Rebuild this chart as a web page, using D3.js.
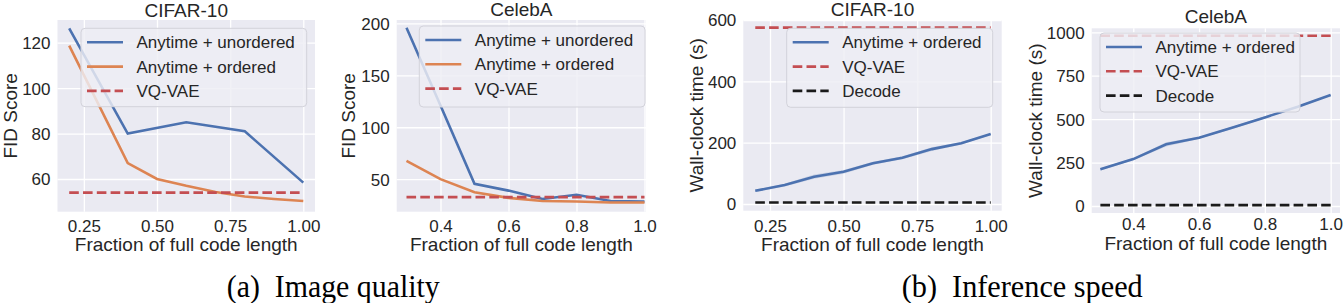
<!DOCTYPE html>
<html>
<head>
<meta charset="utf-8">
<script src="https://cdn.jsdelivr.net/npm/d3@7"></script>
<style>
  body { margin: 0; background: #fff; }
  svg { display: block; }
  text { font-family: "Liberation Sans", Arial, sans-serif; fill: #262626; }
  .caption { font-family: "Liberation Serif", "Times New Roman", serif; fill: #000; }
</style>
</head>
<body>
<svg id="fig" width="1344" height="303"></svg>
<script>
// ---- (a) image quality: FID vs fraction of code length ----
const cifarFracUnordered = [0.2, 0.4, 0.6, 0.8, 1.0];
const cifarFidUnordered  = [126.3, 80, 85, 81, 58.4];
const cifarFracOrdered   = [0.2, 0.4, 0.5, 0.6, 0.7, 0.8, 0.9, 1.0];
const cifarFidOrdered    = [118.7, 67, 60, 57, 54.3, 52.3, 51.2, 50.3];
const cifarFidVQ = 54;

const celebFrac = [0.3, 0.4, 0.5, 0.6, 0.7, 0.8, 0.9, 1.0];
const celebFidUnordered = [195.8, 121, 45.5, 39, 31, 35, 29, 28.5];
const celebFidOrdered   = [67.6, 50, 37.5, 32, 29, 28.5, 27.5, 27.5];
const celebFidVQ = 32.7;

// ---- (b) inference speed: wall-clock seconds ----
const cifarSpeedFrac = [0.2, 0.3, 0.4, 0.5, 0.6, 0.7, 0.8, 0.9, 1.0];
const cifarTime   = [43, 62, 89, 105, 133, 151, 179, 198, 228];
const cifarTimeLo = [39, 57, 82, 99, 128, 146, 173, 194, 225];
const cifarTimeHi = [47, 66, 96, 111, 138, 156, 185, 202, 231];
const cifarTimeVQ = 575;
const cifarTimeDecode = 5;

const celebSpeedFrac = [0.3, 0.4, 0.5, 0.6, 0.7, 0.8, 0.9, 1.0];
const celebTime   = [211, 270, 355, 393, 450, 510, 571, 639];
const celebTimeLo = [205, 264, 343, 387, 444, 504, 565, 634];
const celebTimeHi = [217, 276, 367, 399, 456, 516, 577, 644];
const celebTimeVQ = 980;
const celebTimeDecode = 5;

const qualityTicksX = [0.25, 0.5, 0.75, 1.0];
const celebTicksX = [0.4, 0.6, 0.8, 1.0];

const blue = "#4C72B0", orange = "#DD8452", red = "#C44E52", black = "#1a1a1a";

const svg = d3.select("#fig");

const panels = [
  {
    title: "CIFAR-10", ylab: "FID Score",
    box: [57.5, 20, 315, 211.7], xd: [0.16, 1.04], yd: [45.6, 130],
    xt: qualityTicksX, xfmt: ".2f", yt: [60, 80, 100, 120],
    titleY: 16.5, ylabX: 17, xtY: 20, xlY: 39.5,
    legend: [81, 28.3, 225.7, 78.4],
    series: [
      {name: "Anytime + unordered", x: cifarFracUnordered, y: cifarFidUnordered, color: blue},
      {name: "Anytime + ordered", x: cifarFracOrdered, y: cifarFidOrdered, color: orange},
      {name: "VQ-VAE", h: cifarFidVQ, color: red, dash: true, span: [0.2, 1.0]}
    ]
  },
  {
    title: "CelebA", ylab: "FID Score",
    box: [396.7, 20, 646, 211.7], xd: [0.2712, 1.0044], yd: [18.7, 203.2],
    xt: celebTicksX, xfmt: ".1f", yt: [50, 100, 150, 200],
    titleY: 15.5, ylabX: 355, xtY: 20, xlY: 39.5,
    legend: [419.3, 26, 225.7, 81],
    series: [
      {name: "Anytime + unordered", x: celebFrac, y: celebFidUnordered, color: blue},
      {name: "Anytime + ordered", x: celebFrac, y: celebFidOrdered, color: orange},
      {name: "VQ-VAE", h: celebFidVQ, color: red, dash: true, span: [0.3, 1.0]}
    ]
  },
  {
    title: "CIFAR-10", ylab: "Wall-clock time (s)",
    box: [743.3, 20, 1001.7, 210.7], xd: [0.1593, 1.0374], yd: [-21.85, 600],
    xt: qualityTicksX, xfmt: ".2f", yt: [0, 200, 400, 600],
    titleY: 15.5, ylabX: 703, xtY: 21, xlY: 40.5,
    legend: [786.7, 28.3, 206, 79],
    series: [
      {name: "Anytime + ordered", x: cifarSpeedFrac, y: cifarTime, lo: cifarTimeLo, hi: cifarTimeHi, color: blue},
      {name: "VQ-VAE", h: cifarTimeVQ, color: red, dash: true, span: [0.2, 1.0]},
      {name: "Decode", h: cifarTimeDecode, color: black, dash: true, span: [0.2, 1.0]}
    ]
  },
  {
    title: "CelebA", ylab: "Wall-clock time (s)",
    box: [1091.7, 28.3, 1340, 213], xd: [0.2736, 1.0284], yd: [-40.3, 1023],
    xt: celebTicksX, xfmt: ".1f", yt: [0, 250, 500, 750, 1000],
    titleY: 23, ylabX: 1042, xtY: 17, xlY: 37,
    legend: [1100, 33, 200, 79],
    series: [
      {name: "Anytime + ordered", x: celebSpeedFrac, y: celebTime, lo: celebTimeLo, hi: celebTimeHi, color: blue},
      {name: "VQ-VAE", h: celebTimeVQ, color: red, dash: true, span: [0.3, 1.0]},
      {name: "Decode", h: celebTimeDecode, color: black, dash: true, span: [0.3, 1.0]}
    ]
  }
];

panels.forEach((p, pi) => {
  const [l, t, r, b] = p.box;
  const x = d3.scaleLinear().domain(p.xd).range([l, r]);
  const y = d3.scaleLinear().domain(p.yd).range([b, t]);
  const g = svg.append("g");

  g.append("clipPath").attr("id", "clip" + pi)
    .append("rect").attr("x", l).attr("y", t).attr("width", r - l).attr("height", b - t);

  g.append("rect").attr("x", l).attr("y", t).attr("width", r - l).attr("height", b - t)
    .attr("fill", "#EAEAF2");

  // grid via axes, labels drawn by the axes too
  const ax = g.append("g").attr("transform", `translate(0,${b})`)
    .call(d3.axisBottom(x).tickValues(p.xt).tickFormat(d3.format(p.xfmt)).tickSize(-(b - t)).tickPadding(0));
  const ay = g.append("g").attr("transform", `translate(${l},0)`)
    .call(d3.axisLeft(y).tickValues(p.yt).tickFormat(d3.format("d")).tickSize(-(r - l)).tickPadding(0));
  [ax, ay].forEach(a => {
    a.select(".domain").remove();
    a.selectAll(".tick line").attr("stroke", "#fff").attr("stroke-width", 1.3);
    a.selectAll(".tick text").attr("font-size", 17).attr("fill", "#262626")
      .attr("font-family", "Liberation Sans, Arial, sans-serif");
  });
  ax.selectAll(".tick text").attr("y", p.xtY).attr("dy", 0);
  ay.selectAll(".tick text").attr("x", -7).attr("dy", "0.35em");

  const plot = g.append("g").attr("clip-path", `url(#clip${pi})`);
  p.series.forEach(s => {
    if (s.lo) {
      const pts = s.x.map((v, i) => [v, s.lo[i], s.hi[i]]);
      plot.append("path").datum(pts)
        .attr("d", d3.area().x(d => x(d[0])).y0(d => y(d[1])).y1(d => y(d[2])))
        .attr("fill", s.color).attr("opacity", 0.2);
    }
    let pts;
    if (s.h !== undefined) pts = s.span.map(v => [v, s.h]);
    else pts = s.x.map((v, i) => [v, s.y[i]]);
    plot.append("path").datum(pts)
      .attr("d", d3.line().x(d => x(d[0])).y(d => y(d[1])))
      .attr("fill", "none").attr("stroke", s.color).attr("stroke-width", 2.6)
      .attr("stroke-dasharray", s.dash ? "9.6,4.2" : null);
  });

  // legend
  const [lx, ly, lw, lh] = p.legend;
  const lg = g.append("g");
  lg.append("rect").attr("x", lx).attr("y", ly).attr("width", lw).attr("height", lh)
    .attr("rx", 4).attr("fill", "#EEEEF4").attr("fill-opacity", 0.82)
    .attr("stroke", "#D2D2DA").attr("stroke-width", 1);
  p.series.forEach((s, i) => {
    const ry = ly + 14 + i * 24.3;
    lg.append("line").attr("x1", lx + 6).attr("x2", lx + 42).attr("y1", ry).attr("y2", ry)
      .attr("stroke", s.color).attr("stroke-width", 2.6)
      .attr("stroke-dasharray", s.dash ? "9.6,4.2" : null);
    lg.append("text").attr("x", lx + 55.5).attr("y", ry).attr("dy", "0.35em")
      .attr("font-size", 17).text(s.name);
  });

  // titles and labels
  g.append("text").attr("x", (l + r) / 2).attr("y", p.titleY).attr("text-anchor", "middle")
    .attr("font-size", 19).text(p.title);
  g.append("text").attr("x", (l + r) / 2).attr("y", b + p.xlY).attr("text-anchor", "middle")
    .attr("font-size", 19).text("Fraction of full code length");
  g.append("text").attr("transform", `translate(${p.ylabX},${(t + b) / 2}) rotate(-90)`)
    .attr("text-anchor", "middle").attr("font-size", 19).text(p.ylab);
});

svg.append("text").attr("class", "caption").attr("x", 226.7).attr("y", 297)
  .attr("font-size", 30.5).attr("textLength", 213).attr("lengthAdjust", "spacingAndGlyphs")
  .text("(a)\u00A0 Image quality");
svg.append("text").attr("class", "caption").attr("x", 901.7).attr("y", 297)
  .attr("font-size", 30.5).attr("textLength", 241).attr("lengthAdjust", "spacingAndGlyphs")
  .text("(b)\u00A0 Inference speed");
</script>
</body>
</html>
